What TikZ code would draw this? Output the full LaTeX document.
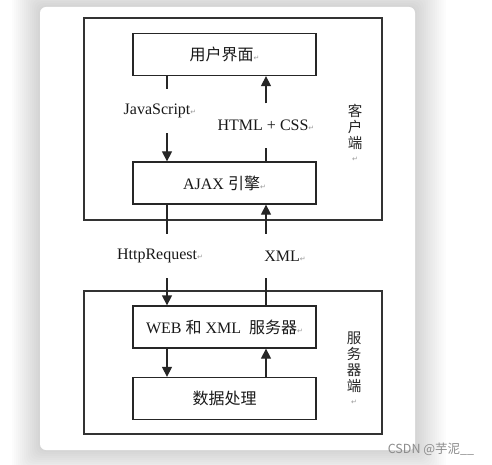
\documentclass[tikz,border=0pt]{standalone}
\usepackage{fontspec}
\setmainfont{Liberation Serif}
\newfontfamily\cjkf{Noto Sans CJK SC}
\newfontfamily\symf{DejaVu Sans}
\usetikzlibrary{arrows.meta}
\newcommand\zhs[1]{{\cjkf #1}}
\newcommand\pmk{{\symf\fontsize{7}{7}\selectfont\color{black!40}↵}}
\begin{document}
\begin{tikzpicture}[x=1pt,y=-1pt,font=\fontsize{16}{18}\selectfont,
  box/.style={draw=black!85,line width=1.3pt,minimum width=183pt,minimum height=42pt,inner sep=0,text=black!90},
  frame/.style={draw=black!80,line width=1.3pt,inner sep=0},
  lbl/.style={inner sep=0,minimum height=44pt,text=black!90},
  ln/.style={draw=black!85,line width=1.3pt},
  arr/.style={draw=black!85,line width=1.3pt,-{Triangle[length=10pt,width=10pt]}},
  vlab/.style={align=center,inner sep=0,anchor=north,text=black!85,font=\cjkf\fontsize{14.5}{16}\selectfont}]
\useasboundingbox (0,0) rectangle (492,465);
\fill[white] (0,0) rectangle (492,465);
\foreach \i in {1,...,14}{\fill[black,opacity=0.012,rounded corners=8pt] (40-2*\i,7-2*\i) rectangle (415+2.2*\i,450+2*\i);}
\fill[white,rounded corners=6pt] (40,7) rectangle (415,450);
% frames
\node[frame,minimum width=298pt,minimum height=202pt] (client) at (233,119) {};
\node[frame,minimum width=298pt,minimum height=143pt] (server) at (233,362.5) {};
% boxes
\node[box] (ui) at (224.5,54.5) {\zhs{用户界面}\pmk};
\node[box] (ajax) at (224.5,183) {AJAX \zhs{引擎}\pmk};
\node[box] (web) at (224.5,327) {WEB \zhs{和} XML\ \ \zhs{服务器}\pmk};
\node[box] (data) at (224.5,398.5) {\zhs{数据处理}};
\coordinate (xl) at (167,0);
\coordinate (xr) at (266,0);
% labels
\node[lbl] (js) at (160,111) {JavaScript\pmk};
\node[lbl] (hc) at (266,125.5) {HTML + CSS\pmk};
\node[lbl] (hr) at (160,256) {HttpRequest\pmk};
\node[lbl] (xml) at (285,256) {XML\pmk};
% connectors
\draw[ln] (ui.south -| xl) -- (xl |- js.north);
\draw[arr] (xl |- js.south) -- (ajax.north -| xl);
\draw[ln] (ajax.north -| xr) -- (xr |- hc.south);
\draw[arr] (xr |- hc.north) -- (ui.south -| xr);
\draw[ln] (ajax.south -| xl) -- (xl |- hr.north);
\draw[arr] (xl |- hr.south) -- (web.north -| xl);
\draw[ln] (web.north -| xr) -- (xr |- xml.south);
\draw[arr] (xr |- xml.north) -- (ajax.south -| xr);
\draw[arr] (web.south -| xl) -- (data.north -| xl);
\draw[arr] (data.north -| xr) -- (web.south -| xr);
% vertical labels
\node[vlab] (vc) at (355,104) {客\\户\\端\\[-3pt]\pmk};
\node[vlab] (vs) at (354,332) {服\\务\\器\\端\\[-3pt]\pmk};
% watermark
\node[inner sep=0,text=black!45,font=\cjkf\fontsize{12.5}{14}\selectfont] (wm) at (431,449) {CSDN @芋泥\_\_};
\end{tikzpicture}
\end{document}
